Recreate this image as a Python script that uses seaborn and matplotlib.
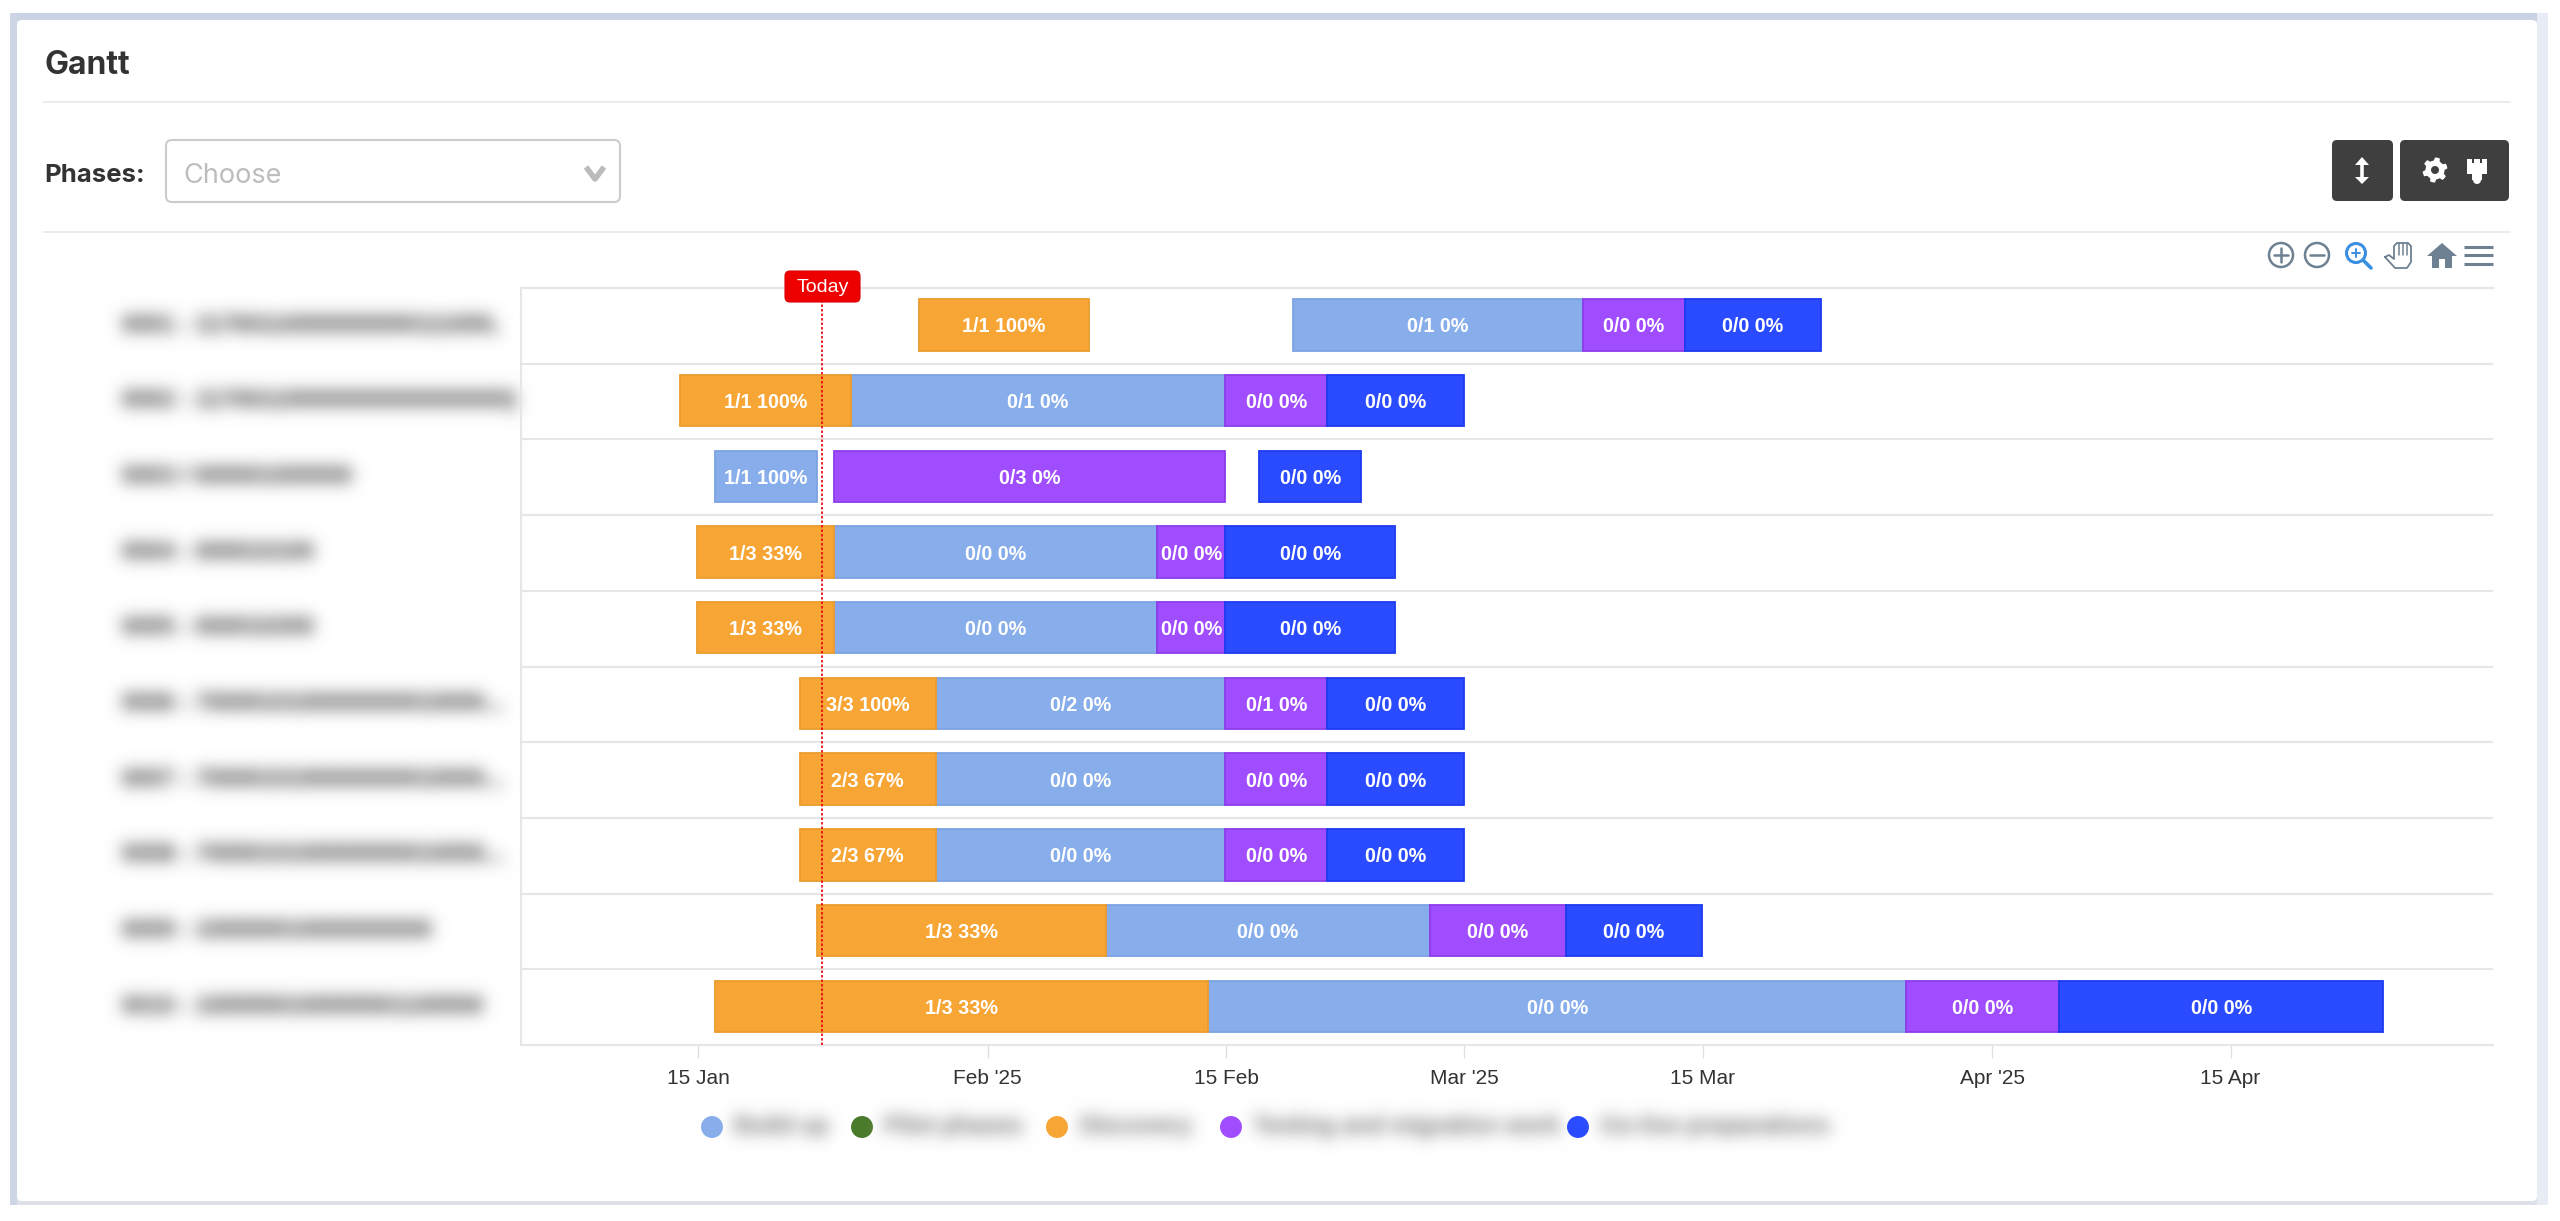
import numpy as np
import pandas as pd
import matplotlib
matplotlib.use("Agg")
import matplotlib.pyplot as plt
import matplotlib.dates as mdates
from matplotlib.patches import Rectangle, FancyBboxPatch, Circle, Polygon
from matplotlib.transforms import blended_transform_factory
import seaborn as sns

# the row and legend names are blurred in the original, so these are stand-ins
rows = [
    "0001 : 11700110000000000111000,",
    "0002 : 117001100000000000000000)",
    "0003 / 000001000000",
    "0004 : 000010100",
    "0005 : 000010200",
    "0006 : 7000010100000000010000...",
    "0007 : 7000010100000000010000...",
    "0008 : 7000010100000000010000...",
    "0009 : 100000010000000000",
    "0010 : 1000000100000001100000",
]
phases = ["Build up", "Pilot phases", "Discovery", "Testing and migration work", "Go-live preparations"]
phase_colors = ["#87ADEB", "#4A7A2C", "#F7A535", "#A04CFF", "#2A4BFF"]
phase_edges = ["#7CA3E4", "#3F6A25", "#EC9C2E", "#8D3CEB", "#1C3BF0"]

orange_rows = [0, 1, 3, 4, 5, 6, 7, 8, 9]
orange_start = ["2025-01-28", "2025-01-14", "2025-01-15", "2025-01-15", "2025-01-21",
                "2025-01-21", "2025-01-21", "2025-01-22", "2025-01-16"]
orange_end = ["2025-02-07", "2025-01-24", "2025-01-23", "2025-01-23", "2025-01-29",
              "2025-01-29", "2025-01-29", "2025-02-08", "2025-02-14"]
orange_text = ["1/1 100%", "1/1 100%", "1/3 33%", "1/3 33%", "3/3 100%",
               "2/3 67%", "2/3 67%", "1/3 33%", "1/3 33%"]

light_rows = [0, 1, 2, 3, 4, 5, 6, 7, 8, 9]
light_start = ["2025-02-19", "2025-01-24", "2025-01-16", "2025-01-23", "2025-01-23",
               "2025-01-29", "2025-01-29", "2025-01-29", "2025-02-08", "2025-02-14"]
light_end = ["2025-03-08", "2025-02-15", "2025-01-22", "2025-02-11", "2025-02-11",
             "2025-02-15", "2025-02-15", "2025-02-15", "2025-02-27", "2025-03-27"]
light_text = ["0/1 0%", "0/1 0%", "1/1 100%", "0/0 0%", "0/0 0%",
              "0/2 0%", "0/0 0%", "0/0 0%", "0/0 0%", "0/0 0%"]

purple_rows = [0, 1, 2, 3, 4, 5, 6, 7, 8, 9]
purple_start = ["2025-03-08", "2025-02-15", "2025-01-23", "2025-02-11", "2025-02-11",
                "2025-02-15", "2025-02-15", "2025-02-15", "2025-02-27", "2025-03-27"]
purple_end = ["2025-03-14", "2025-02-21", "2025-02-15", "2025-02-15", "2025-02-15",
              "2025-02-21", "2025-02-21", "2025-02-21", "2025-03-07", "2025-04-05"]
purple_text = ["0/0 0%", "0/0 0%", "0/3 0%", "0/0 0%", "0/0 0%",
               "0/1 0%", "0/0 0%", "0/0 0%", "0/0 0%", "0/0 0%"]

blue_rows = [0, 1, 2, 3, 4, 5, 6, 7, 8, 9]
blue_start = ["2025-03-14", "2025-02-21", "2025-02-17", "2025-02-15", "2025-02-15",
              "2025-02-21", "2025-02-21", "2025-02-21", "2025-03-07", "2025-04-05"]
blue_end = ["2025-03-22", "2025-03-01", "2025-02-23", "2025-02-25", "2025-02-25",
            "2025-03-01", "2025-03-01", "2025-03-01", "2025-03-15", "2025-04-24"]
blue_text = ["0/0 0%", "0/0 0%", "0/0 0%", "0/0 0%", "0/0 0%",
             "0/0 0%", "0/0 0%", "0/0 0%", "0/0 0%", "0/0 0%"]

tick_dates = ["2025-01-15", "2025-02-01", "2025-02-15", "2025-03-01",
              "2025-03-15", "2025-04-01", "2025-04-15"]
tick_labels = ["15 Jan", "Feb '25", "15 Feb", "Mar '25", "15 Mar", "Apr '25", "15 Apr"]
today = "2025-01-22 07:00"
x_start = "2025-01-04 14:00"
x_end = "2025-04-30 10:00"

W, H = 2560, 1221
sns.set_theme(style="white")
plt.rcParams["font.family"] = ["Liberation Sans", "DejaVu Sans"]


def blur(sigma, strength=1.0, gray=0.45):
    # gaussian blur for the censored labels, used as an agg filter
    def apply(image, dpi):
        pad = int(sigma * 3)
        alpha = np.pad(image[..., 3], pad)
        x = np.arange(-pad, pad + 1)
        kernel = np.exp(-x ** 2 / (2 * sigma ** 2))
        kernel = kernel / kernel.sum()
        alpha = np.apply_along_axis(lambda v: np.convolve(v, kernel, mode="same"), 0, alpha)
        alpha = np.apply_along_axis(lambda v: np.convolve(v, kernel, mode="same"), 1, alpha)
        out = np.full(alpha.shape + (4,), gray, dtype=float)
        out[..., 3] = np.clip(alpha * strength, 0, 1)
        return out, -pad, -pad
    return apply


def make_table(phase, row_ids, start, end, text):
    df = pd.DataFrame({"row": [rows[i] for i in row_ids], "row_id": row_ids, "text": text})
    df["phase"] = phase
    df["start"] = mdates.date2num(pd.to_datetime(start))
    df["end"] = mdates.date2num(pd.to_datetime(end))
    df["days"] = df["end"] - df["start"]
    return df


tables = [
    make_table(phases[0], light_rows, light_start, light_end, light_text),
    make_table(phases[2], orange_rows, orange_start, orange_end, orange_text),
    make_table(phases[3], purple_rows, purple_start, purple_end, purple_text),
    make_table(phases[4], blue_rows, blue_start, blue_end, blue_text),
]

fig = plt.figure(figsize=(W / 100, H / 100), dpi=100, facecolor="white")

# page furniture, in pixel coordinates
page = fig.add_axes([0, 0, 1, 1], zorder=0)
page.set_xlim(0, W)
page.set_ylim(H, 0)
page.axis("off")

page.add_patch(Rectangle((10, 13), 2538, 1192, fc="#DDE1E8", ec="none"))
page.add_patch(Rectangle((10, 13), 2538, 8, fc="#C9D3E3", ec="none"))
page.add_patch(Rectangle((10, 13), 7, 1192, fc="#CDD6E6", ec="none"))
page.add_patch(Rectangle((2537, 13), 11, 1192, fc="#E8ECF4", ec="none"))
page.add_patch(FancyBboxPatch((17, 20), 2520, 1181, boxstyle="round,pad=0,rounding_size=5",
                              fc="white", ec="none"))

page.text(44, 66, "Gantt", family="Inter", weight="bold", fontsize=23, color="#333333", va="center")
page.plot([44, 2510], [102, 102], color="#EBEBEB", lw=1.4)
page.plot([44, 2510], [232, 232], color="#EBEBEB", lw=1.4)
page.text(44, 176, "Phases:", family="Inter", weight="bold", fontsize=18.5, color="#333333", va="center")
page.add_patch(FancyBboxPatch((166, 140), 454, 62, boxstyle="round,pad=0,rounding_size=6",
                              fc="white", ec="#CCCCCC", lw=1.5))
page.text(183, 176, "Choose", family="Inter", fontsize=19.5, color="#BDBDBD", va="center")
page.plot([586, 595, 604], [167, 179, 167], color="#BBBBBB", lw=4, solid_capstyle="butt")

dark = "#3F3F3F"
page.add_patch(FancyBboxPatch((2332, 140), 61, 61, boxstyle="round,pad=0,rounding_size=5", fc=dark, ec="none"))
page.add_patch(FancyBboxPatch((2400, 140), 109, 61, boxstyle="round,pad=0,rounding_size=5", fc=dark, ec="none"))
page.plot([2362, 2362], [162, 180], color="white", lw=2.6)
page.add_patch(Polygon([[2355, 165], [2362, 157], [2369, 165]], fc="white", ec="none"))
page.add_patch(Polygon([[2355, 177], [2362, 184], [2369, 177]], fc="white", ec="none"))

# gear
angles = np.linspace(0, 2 * np.pi, 48, endpoint=False) + np.pi / 6
radii = np.where(np.arange(48) % 8 < 4, 12.5, 9.5)
page.add_patch(Polygon(np.c_[2435 + radii * np.cos(angles), 170 + radii * np.sin(angles)], fc="white", ec="none"))
page.add_patch(Circle((2435, 170), 4, fc=dark, ec="none"))
# brush
page.add_patch(Rectangle((2467, 159), 20, 15, fc="white", ec="none"))
page.add_patch(Rectangle((2472, 174), 10, 6, fc="white", ec="none"))
page.add_patch(Circle((2477, 180), 4, fc="white", ec="none"))
page.add_patch(Rectangle((2472, 159), 1.5, 4, fc=dark, ec="none"))
page.add_patch(Rectangle((2480, 159), 1.5, 4, fc=dark, ec="none"))

# chart toolbar
icon = "#6E8192"
page.add_patch(Circle((2281, 255), 12, fc="none", ec=icon, lw=1.8))
page.plot([2274, 2288], [255, 255], color=icon, lw=1.8)
page.plot([2281, 2281], [248, 262], color=icon, lw=1.8)
page.add_patch(Circle((2317, 255), 12, fc="none", ec=icon, lw=1.8))
page.plot([2310, 2324], [255, 255], color=icon, lw=1.8)
page.add_patch(Circle((2356, 253), 9.5, fc="none", ec="#3B8FE0", lw=2.2))
page.plot([2363, 2371], [260, 268], color="#3B8FE0", lw=2.6)
page.plot([2352, 2360], [253, 253], color="#3B8FE0", lw=1.4)
page.plot([2356, 2356], [249, 257], color="#3B8FE0", lw=1.4)
# hand
page.plot([2385, 2389, 2394, 2394, 2397, 2408, 2411, 2411, 2407, 2395, 2385],
          [257, 255, 259, 246, 243, 243, 246, 262, 268, 268, 257], color=icon, lw=1.3)
for x in [2398.5, 2402.5, 2406.5]:
    page.plot([x, x], [243, 255], color=icon, lw=1.1)
page.add_patch(Polygon([[2427, 256], [2442, 243], [2457, 256], [2452, 256], [2452, 268], [2445, 268],
                        [2445, 259], [2439, 259], [2439, 268], [2432, 268], [2432, 256]], fc=icon, ec="none"))
for y in [247, 255, 264]:
    page.plot([2464, 2493], [y, y], color=icon, lw=2.2, solid_capstyle="butt")

# legend along the bottom
legend_x = [712, 862, 1057, 1231, 1578]
for name, color, x in zip(phases, phase_colors, legend_x):
    page.scatter([x], [1127], s=250, color=color, edgecolors="none", zorder=3)
    label = page.text(x + 22, 1127, name, fontsize=17, weight="bold", color="#777777", va="center")
    label.set_agg_filter(blur(8, 3.0, 0.8))

# the chart itself
left, right, top, bottom = 521, 2493, 288, 1045
ax = fig.add_axes([left / W, 1 - bottom / H, (right - left) / W, (bottom - top) / H], zorder=1)
ax.set_facecolor("none")

# the bars sit a touch up and left of the gridded positions in the original
nudge_x, nudge_y = 0.05, 0.012
for df in tables:
    i = phases.index(df["phase"].iloc[0])
    df = df.sort_values("row_id")
    sns.barplot(data=df, y="row", x="days", order=rows, orient="h", errorbar=None,
                left=df["start"].values - nudge_x, width=0.68, color=phase_colors[i], saturation=1,
                edgecolor=phase_edges[i], linewidth=1.3, ax=ax, zorder=2)
    for _, r in df.iterrows():
        ax.text((r["start"] + r["end"]) / 2 - nudge_x, r["row_id"] - nudge_y, r["text"], ha="center",
                va="center_baseline", color="white", weight="bold", fontsize=14.2, zorder=4)
for bar in ax.patches:
    bar.set_y(bar.get_y() - nudge_y)

ax.set_xlim(mdates.date2num(pd.Timestamp(x_start)), mdates.date2num(pd.Timestamp(x_end)))
ax.set_ylim(9.5, -0.5)
ax.set_xlabel("")
ax.set_ylabel("")

ax.set_xticks(mdates.date2num(pd.to_datetime(tick_dates)))
ax.set_xticklabels(tick_labels)
ax.tick_params(axis="x", length=9.5, width=1, color="#E0E0E0", labelsize=15, labelcolor="#333333",
               pad=8, bottom=True)

# row names float a little above the middle of their bands
ax.set_yticks(np.arange(len(rows)) - 0.045)
ax.set_yticklabels(rows)
ax.tick_params(axis="y", length=0, pad=(left - 122) * 0.72, labelsize=17, labelcolor="#777777")
for label in ax.get_yticklabels():
    label.set_ha("left")
    label.set_weight("bold")
    label.set_agg_filter(blur(8, 3.0, 0.72))

ax.set_yticks(np.arange(0.5, 9.5), minor=True)
ax.tick_params(axis="y", which="minor", length=0)
ax.grid(False)
ax.grid(which="minor", axis="y", color="#E6E6E6", lw=1.5, zorder=1)
ax.set_axisbelow(True)
for side, spine in ax.spines.items():
    spine.set_visible(side != "right")
    spine.set_color("#E6E6E6")
    spine.set_linewidth(1.5)

today_x = mdates.date2num(pd.Timestamp(today))
ax.axvline(today_x, color="#E8000B", lw=1.2, ls=(0, (1.5, 1.2)), zorder=5)
ax.add_patch(FancyBboxPatch((785, 271), 75, 31, boxstyle="round,pad=0,rounding_size=5", fc="#EE0000",
                            ec="#D90000", lw=0.8, transform=page.transData, clip_on=False, zorder=6))
trans = blended_transform_factory(ax.transData, page.transData)
ax.text(today_x, 287, "Today", transform=trans, ha="center", va="center", color="white",
        fontsize=14, zorder=7, clip_on=False)

fig.savefig("out.png", dpi=100)
